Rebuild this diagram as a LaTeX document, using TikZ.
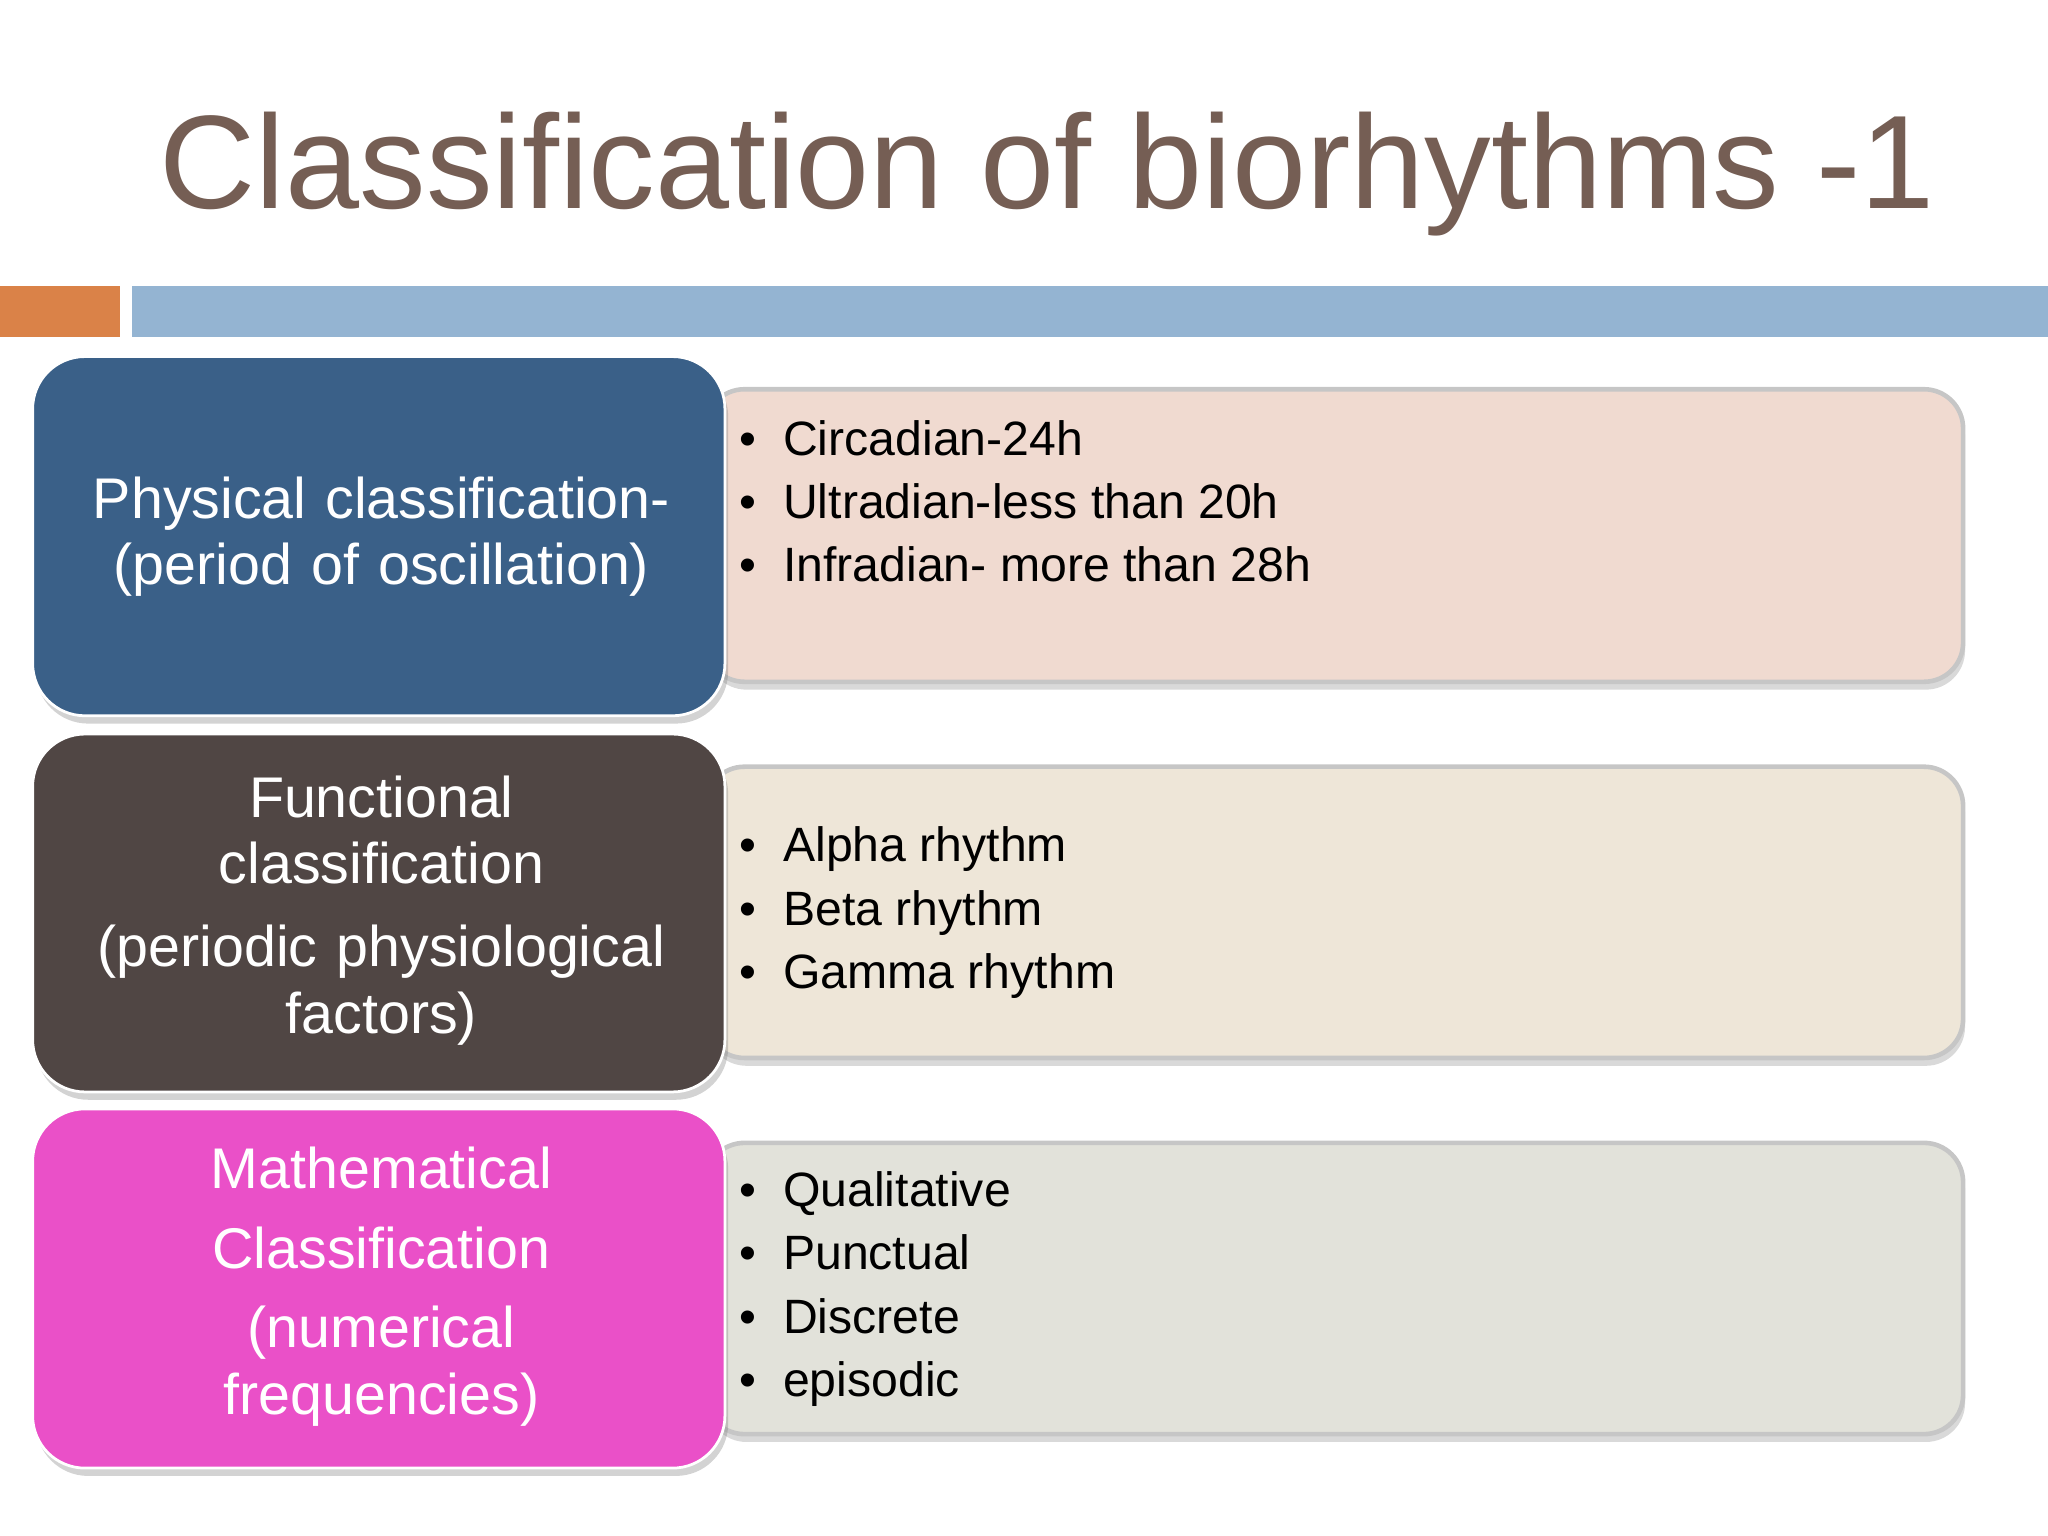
\documentclass[tikz,border=0pt]{standalone}
\usepackage{fontspec}
\setmainfont{Liberation Sans}
\usetikzlibrary{shadows}
\definecolor{titlec}{RGB}{117,94,84}
\definecolor{orangec}{RGB}{218,130,72}
\definecolor{bluebar}{RGB}{148,180,210}
\definecolor{bluebox}{RGB}{58,96,136}
\definecolor{darkbox}{RGB}{80,70,68}
\definecolor{magbox}{RGB}{234,80,200}
\definecolor{pinkf}{RGB}{240,218,208}
\definecolor{beigef}{RGB}{238,230,216}
\definecolor{greyf}{RGB}{226,226,218}
\begin{document}
\begin{tikzpicture}[x=0.02cm,y=-0.02cm,
  leftbox/.style={rounded corners=0.8cm,draw=white,line width=1.2pt,drop shadow={shadow xshift=0.5mm,shadow yshift=-1.2mm,opacity=0.35}},
  rightbox/.style={rounded corners=0.6cm,draw=gray!45,line width=2pt,drop shadow={shadow xshift=0.3mm,shadow yshift=-1.2mm,opacity=0.3}},
  lefttext/.style={text=white,font=\fontsize{25}{29}\selectfont,align=center,text width=10.2cm},
  bul/.style={anchor=north west,font=\fontsize{21}{27.5}\selectfont,align=left}]
\useasboundingbox (0,0) rectangle (1568,1176);
\node[anchor=base west,text=titlec,font=\fontsize{58}{60}\selectfont,inner sep=0] (title) at (122,160) {Classification of biorhythms -1};
\fill[orangec] (0,219) rectangle (92,258);
\fill[bluebar] (101,219) rectangle (1568,258);
% right boxes
\draw[rightbox,fill=pinkf] (540,298) rectangle (1503,522);
\draw[rightbox,fill=beigef] (540,587) rectangle (1503,810);
\draw[rightbox,fill=greyf] (540,875) rectangle (1503,1098);
% left boxes
\draw[leftbox,fill=bluebox] (25,273) rectangle (555,548);
\draw[leftbox,fill=darkbox] (25,562) rectangle (555,836);
\draw[leftbox,fill=magbox] (25,849) rectangle (555,1124);
\node[lefttext] (l1) at (292,411) {Physical classification-\\(period of oscillation)};
\node[lefttext] (l2) at (292,697) {Functional\\classification\\[0.25cm](periodic physiological\\factors)};
\node[lefttext] (l3) at (292,985) {Mathematical\\[0.2cm]Classification\\[0.2cm](numerical\\frequencies)};
\node[bul] (r1) at (560,316) {• \ Circadian-24h\\• \ Ultradian-less than 20h\\• \ Infradian- more than 28h};
\node[bul] (r2) at (560,627) {• \ Alpha rhythm\\• \ Beta rhythm\\• \ Gamma rhythm};
\node[bul] (r3) at (560,891) {• \ Qualitative\\• \ Punctual\\• \ Discrete\\• \ episodic};
\end{tikzpicture}
\end{document}
